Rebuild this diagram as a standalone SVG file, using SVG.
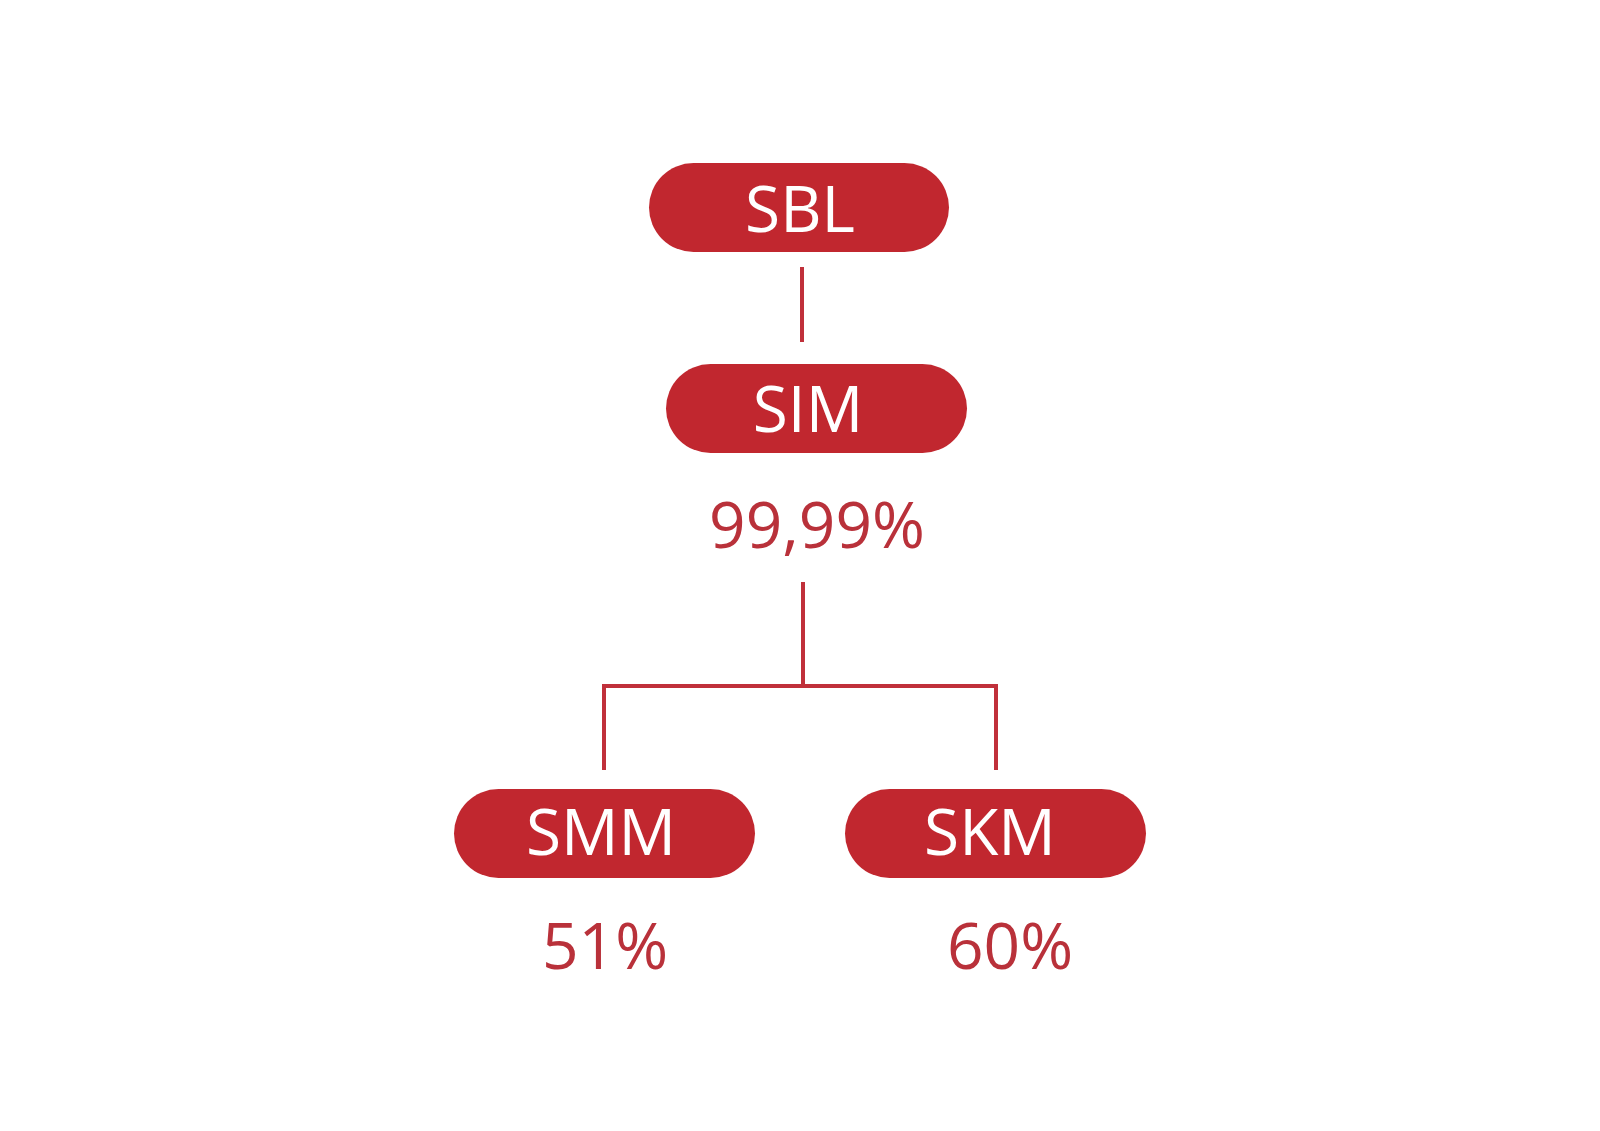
<svg xmlns="http://www.w3.org/2000/svg" width="1600" height="1131" viewBox="0 0 1600 1131">
<style>
.pill{fill:#C1272F}
.lbl{font-family:"Open Sans","Liberation Sans",sans-serif;font-size:64px;fill:#FFFFFF;text-anchor:middle}
.pct{font-family:"Open Sans","Liberation Sans",sans-serif;font-size:64px;fill:#B9313A;text-anchor:middle}
.conn{stroke:#C0303A;stroke-width:4;fill:none}
</style>
<rect width="1600" height="1131" fill="#FFFFFF"/>
<g id="connectors">
<line class="conn" x1="802" y1="267" x2="802" y2="342"/>
<line class="conn" x1="803" y1="582" x2="803" y2="686"/>
<polyline class="conn" points="604,770 604,686 996,686 996,770"/>
</g>
<g id="SBL">
<rect class="pill" x="649" y="163" width="300" height="89" rx="44.5"/>
<text class="lbl" x="800" y="232">SBL</text>
</g>
<g id="SIM">
<rect class="pill" x="666" y="364" width="301" height="89" rx="44.5"/>
<text class="lbl" x="808" y="432">SIM</text>
<text class="pct" x="817" y="548">99,99%</text>
</g>
<g id="SMM">
<rect class="pill" x="454" y="789" width="301" height="89" rx="44.5"/>
<text class="lbl" x="601" y="855">SMM</text>
<text class="pct" x="605" y="969">51%</text>
</g>
<g id="SKM">
<rect class="pill" x="845" y="789" width="301" height="89" rx="44.5"/>
<text class="lbl" x="990" y="855">SKM</text>
<text class="pct" x="1010" y="969">60%</text>
</g>
</svg>
